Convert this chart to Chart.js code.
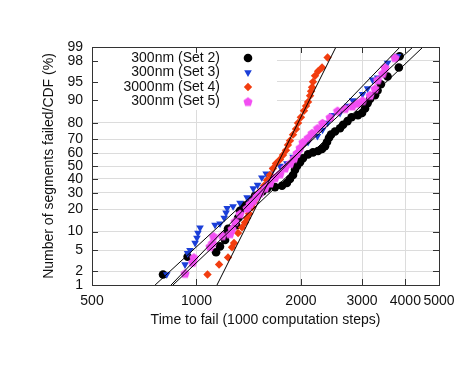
<!DOCTYPE html>
<html>
<head>
<meta charset="utf-8">
<script src="https://cdn.jsdelivr.net/npm/chart.js@4/dist/chart.umd.min.js"></script>
<style>
body { margin: 0; background: #fff; }
#wrap { width: 474px; height: 366px; position: relative; }
</style>
</head>
<body>
<div id="wrap"><canvas id="chart"></canvas></div>
<script>
// Series names and colours
const seriesNames = ['300nm (Set 2)', '300nm (Set 3)', '3000nm (Set 4)', '300nm (Set 5)'];
const seriesColors = ['#000000', '#1b3fd8', '#f23d0f', '#f24ef2'];

// Time to fail (1000 computation steps) and CDF (%) for each set
const set2Time = [801, 943, 1139, 1169, 1209, 1226, 1233, 1301, 1318, 1335, 1370, 1427, 1475, 1550, 1597, 1684, 1764, 1822, 1860, 1898, 1923, 1949, 1988, 2027, 2097, 2167, 2241, 2301, 2347, 2378, 2410, 2442, 2508, 2593, 2646, 2725, 2799, 2920, 3000, 3061, 3112, 3164, 3271, 3326, 3400, 3554, 3830, 3850];
const set2Pct  = [1.7, 3.8, 4.6, 5.8, 7.4, 9.3, 11, 12.4, 15.5, 19, 22, 25, 28, 31, 33, 34, 35, 37, 40, 43, 47, 50, 53, 56, 59, 60.5, 61.5, 63, 65, 68, 71, 73, 75, 77, 79, 81, 83, 84, 85, 87, 89, 90.5, 91.7, 93, 94.5, 96, 97.3, 98.4];

const set3Time = [821, 927, 943, 958, 991, 1003, 1010, 1024, 1131, 1169, 1202, 1217, 1226, 1275, 1335, 1399, 1458, 1500, 1543, 1588, 1661, 1741, 1822, 1898, 1988, 2097, 2232, 2308, 2387, 2467, 2593, 2725, 2820, 3010, 3112, 3217, 3326, 3554, 3798];
const set3Pct  = [1.7, 2.7, 4.4, 5.0, 6.6, 8.0, 9.5, 11.4, 12.5, 13, 15.5, 18, 20.5, 21.5, 23.5, 27, 33, 35.5, 41, 44, 47, 50, 52, 57, 62, 68, 72, 76, 80, 84, 85, 88, 90, 92, 93.5, 95.4, 95.8, 97.8, 98.4];

const set4Time = [1076, 1162, 1233, 1266, 1283, 1318, 1353, 1380, 1399, 1418, 1448, 1465, 1490, 1524, 1566, 1597, 1629, 1661, 1695, 1741, 1776, 1811, 1835, 1860, 1898, 1936, 1962, 2000, 2041, 2069, 2097, 2125, 2140, 2153, 2167, 2196, 2241, 2301, 2387];
const set4Pct  = [1.7, 2.7, 3.7, 5.6, 6.6, 9.5, 11.5, 13.5, 15.5, 17.5, 21, 24, 27, 31, 35, 39, 43, 48, 52, 55, 58.5, 62, 66, 69, 73, 76.5, 80, 83, 86, 88, 89.5, 91.5, 92.8, 93.8, 95, 96.1, 96.8, 97.3, 98.3];

const set5Time = [927, 975, 983, 1094, 1112, 1120, 1187, 1249, 1266, 1292, 1335, 1399, 1427, 1458, 1490, 1524, 1576, 1629, 1684, 1741, 1800, 1860, 1910, 1949, 1988, 2027, 2097, 2153, 2232, 2308, 2426, 2550, 2680, 2812, 2912, 3010, 3164, 3271, 3326, 3439, 3495, 3735];
const set5Pct  = [1.8, 3.0, 3.7, 5.8, 6.6, 8.5, 8.7, 9.3, 11, 14, 17.5, 20.5, 23, 25, 28, 30, 33.5, 37, 41, 44, 48.5, 52, 56, 60, 64, 68, 71, 74, 77, 80, 83, 86, 87, 88, 89, 90, 91.7, 93.5, 95.4, 96.5, 97.3, 98.3];

// Black straight-line fits: time at 1 % and at 99 %
const fitTimeAt1  = [856, 760, 1146, 845];
const fitTimeAt99 = [4497, 4207, 2524, 3861];

// Axis ticks
const xTicks = [500, 1000, 2000, 3000, 4000, 5000];
const yTicks = [1, 2, 5, 10, 20, 30, 40, 50, 60, 70, 80, 90, 95, 98, 99];

const FONT = '"Liberation Sans", Arial, sans-serif';

// Inverse normal CDF (Acklam) for the probability axis
function probit(p) {
    const a = [-3.969683028665376e+01, 2.209460984245205e+02, -2.759285104469687e+02, 1.383577518672690e+02, -3.066479806614716e+01, 2.506628277459239e+00];
    const b = [-5.447609879822406e+01, 1.615858368580409e+02, -1.556989798598866e+02, 6.680131188771972e+01, -1.328068155288572e+01];
    const c = [-7.784894002430293e-03, -3.223964580411365e-01, -2.400758277161838e+00, -2.549732539343734e+00, 4.374664141464968e+00, 2.938163982698783e+00];
    const d = [7.784695709041462e-03, 3.224671290700398e-01, 2.445134137142996e+00, 3.754408661907416e+00];
    const pLow = 0.02425;
    let q, r;
    if (p < pLow) {
        q = Math.sqrt(-2 * Math.log(p));
        return (((((c[0]*q+c[1])*q+c[2])*q+c[3])*q+c[4])*q+c[5]) / ((((d[0]*q+d[1])*q+d[2])*q+d[3])*q+1);
    }
    if (p <= 1 - pLow) {
        q = p - 0.5; r = q * q;
        return (((((a[0]*r+a[1])*r+a[2])*r+a[3])*r+a[4])*r+a[5])*q / (((((b[0]*r+b[1])*r+b[2])*r+b[3])*r+b[4])*r+1);
    }
    q = Math.sqrt(-2 * Math.log(1 - p));
    return -(((((c[0]*q+c[1])*q+c[2])*q+c[3])*q+c[4])*q+c[5]) / ((((d[0]*q+d[1])*q+d[2])*q+d[3])*q+1);
}

function toPoints(times, pcts) {
    return times.map((t, i) => ({ x: t, y: probit(pcts[i] / 100) }));
}

// Pentagon marker (not built into Chart.js)
function makePentagon(color, r) {
    const size = Math.ceil(r * 2 + 2);
    const cv = document.createElement('canvas');
    cv.width = size; cv.height = size;
    const g = cv.getContext('2d');
    g.fillStyle = color;
    g.beginPath();
    for (let k = 0; k < 5; k++) {
        const a = -Math.PI / 2 + k * 2 * Math.PI / 5;
        const px = size / 2 + r * Math.cos(a);
        const py = size / 2 + 0.5 + r * Math.sin(a);
        if (k === 0) g.moveTo(px, py); else g.lineTo(px, py);
    }
    g.closePath();
    g.fill();
    return cv;
}

const pentagon = makePentagon(seriesColors[3], 4.8);
const markers = [
    { style: 'circle', radius: 4.3, rotation: 0 },
    { style: 'triangle', radius: 4.4, rotation: 180 },
    { style: 'rectRot', radius: 4.2, rotation: 0 },
    { style: pentagon, radius: 4.5, rotation: 0 }
];

const seriesPoints = [
    toPoints(set2Time, set2Pct),
    toPoints(set3Time, set3Pct),
    toPoints(set4Time, set4Pct),
    toPoints(set5Time, set5Pct)
];

const datasets = [];
// fit lines on top
fitTimeAt1.forEach((t1, i) => {
    datasets.push({
        label: 'fit ' + seriesNames[i],
        data: [{ x: t1, y: probit(0.01) }, { x: fitTimeAt99[i], y: probit(0.99) }],
        showLine: true,
        borderColor: '#000',
        borderWidth: 1,
        pointRadius: 0,
        order: 0
    });
});
// markers, later sets drawn above earlier ones
seriesPoints.forEach((pts, i) => {
    datasets.push({
        label: seriesNames[i],
        data: pts,
        showLine: false,
        pointStyle: markers[i].style,
        pointRadius: markers[i].radius,
        pointRotation: markers[i].rotation,
        backgroundColor: seriesColors[i],
        borderColor: seriesColors[i],
        pointBorderWidth: 0,
        order: 4 - i
    });
});

// Frame, inner tick marks and the key box
const framePlugin = {
    id: 'frame',
    beforeDatasetsDraw(chart) {
        const { ctx, chartArea: a } = chart;
        ctx.save();
        ctx.fillStyle = '#fff';
        ctx.fillRect(a.left + 1, a.top + 1, 184, 62);
        ctx.restore();
    },
    afterDatasetsDraw(chart) {
        const { ctx, chartArea: a, scales } = chart;
        ctx.save();
        ctx.strokeStyle = '#333';
        ctx.lineWidth = 1;
        ctx.beginPath();
        yTicks.forEach(p => {
            const y = Math.round(scales.y.getPixelForValue(probit(p / 100))) + 0.5;
            ctx.moveTo(a.left, y); ctx.lineTo(a.left + 6, y);
            ctx.moveTo(a.right, y); ctx.lineTo(a.right - 6, y);
        });
        xTicks.forEach(v => {
            const x = Math.round(scales.x.getPixelForValue(v)) + 0.5;
            ctx.moveTo(x, a.bottom); ctx.lineTo(x, a.bottom - 6);
            ctx.moveTo(x, a.top); ctx.lineTo(x, a.top + 6);
        });
        ctx.stroke();
        ctx.strokeRect(Math.round(a.left) + 0.5, Math.round(a.top) + 0.5,
            Math.round(a.right - a.left), Math.round(a.bottom - a.top));

        // key
        ctx.font = '14px ' + FONT;
        ctx.textAlign = 'right';
        ctx.textBaseline = 'middle';
        seriesNames.forEach((name, i) => {
            const y = a.top + 11 + i * 14.5;
            ctx.fillStyle = '#111';
            ctx.fillText(name, a.left + 128, y);
            const m = markers[i];
            ctx.fillStyle = seriesColors[i];
            ctx.beginPath();
            Chart.helpers.drawPoint(ctx, {
                pointStyle: m.style, radius: m.radius, rotation: m.rotation, borderWidth: 0
            }, a.left + 156, y);
        });
        ctx.restore();
    }
};

new Chart(document.getElementById('chart'), {
    type: 'scatter',
    data: { datasets },
    options: {
        responsive: true,
        maintainAspectRatio: false,
        animation: false,
        layout: { padding: { left: 0, right: 35, top: 47, bottom: 0 } },
        plugins: { legend: { display: false }, tooltip: { enabled: false } },
        scales: {
            x: {
                type: 'logarithmic',
                min: 500,
                max: 5000,
                afterBuildTicks: s => { s.ticks = xTicks.map(v => ({ value: v })); },
                afterFit: s => { s.height = 81; },
                grid: { color: '#dcdcdc', drawTicks: false },
                border: { display: false },
                ticks: {
                    padding: 8,
                    color: '#111',
                    font: { family: FONT, size: 14 },
                    maxRotation: 0,
                    autoSkip: false,
                    callback: v => String(v)
                },
                title: {
                    display: true,
                    text: 'Time to fail (1000 computation steps)',
                    color: '#111',
                    font: { family: FONT, size: 14 },
                    padding: { top: 0, bottom: 37 }
                }
            },
            y: {
                type: 'linear',
                min: probit(0.01),
                max: probit(0.99),
                afterBuildTicks: s => { s.ticks = yTicks.map(p => ({ value: probit(p / 100) })); },
                afterFit: s => { s.width = 92; },
                grid: { color: '#dcdcdc', drawTicks: false },
                border: { display: false },
                ticks: {
                    padding: 9,
                    color: '#111',
                    font: { family: FONT, size: 14 },
                    autoSkip: false,
                    callback: (v, i) => String(yTicks[i])
                },
                title: {
                    display: true,
                    text: 'Number of segments failed/CDF (%)',
                    color: '#111',
                    font: { family: FONT, size: 14 },
                    padding: { top: 41, bottom: 0 }
                }
            }
        }
    },
    plugins: [framePlugin]
});
</script>
</body>
</html>
